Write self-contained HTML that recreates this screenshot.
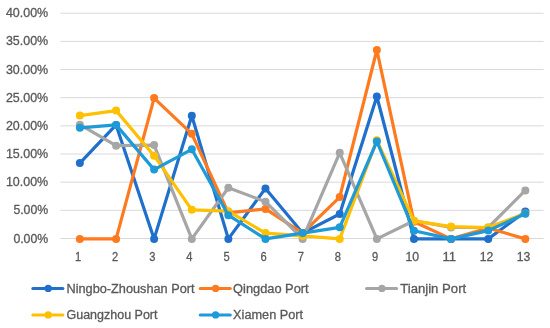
<!DOCTYPE html><html><head><meta charset="utf-8"><title>Chart</title><style>html,body{margin:0;padding:0;background:#fff}svg{display:block}text{font-family:"Liberation Sans",sans-serif;fill:#595959;stroke:#595959;stroke-width:0.3}</style></head><body>
<svg width="550" height="328" viewBox="0 0 550 328">
<rect width="550" height="328" fill="#fff"/>
<line x1="60.5" x2="543.6" y1="238.50" y2="238.50" stroke="#d9d9d9" stroke-width="1"/>
<text x="48.2" y="242.60" font-size="12.6" text-anchor="end" textLength="34.8" lengthAdjust="spacingAndGlyphs">0.00%</text>
<line x1="60.5" x2="543.6" y1="210.34" y2="210.34" stroke="#d9d9d9" stroke-width="1"/>
<text x="48.2" y="214.44" font-size="12.6" text-anchor="end" textLength="34.8" lengthAdjust="spacingAndGlyphs">5.00%</text>
<line x1="60.5" x2="543.6" y1="182.18" y2="182.18" stroke="#d9d9d9" stroke-width="1"/>
<text x="48.2" y="186.28" font-size="12.6" text-anchor="end" textLength="42.3" lengthAdjust="spacingAndGlyphs">10.00%</text>
<line x1="60.5" x2="543.6" y1="154.02" y2="154.02" stroke="#d9d9d9" stroke-width="1"/>
<text x="48.2" y="158.12" font-size="12.6" text-anchor="end" textLength="42.3" lengthAdjust="spacingAndGlyphs">15.00%</text>
<line x1="60.5" x2="543.6" y1="125.86" y2="125.86" stroke="#d9d9d9" stroke-width="1"/>
<text x="48.2" y="129.96" font-size="12.6" text-anchor="end" textLength="42.3" lengthAdjust="spacingAndGlyphs">20.00%</text>
<line x1="60.5" x2="543.6" y1="97.70" y2="97.70" stroke="#d9d9d9" stroke-width="1"/>
<text x="48.2" y="101.80" font-size="12.6" text-anchor="end" textLength="42.3" lengthAdjust="spacingAndGlyphs">25.00%</text>
<line x1="60.5" x2="543.6" y1="69.54" y2="69.54" stroke="#d9d9d9" stroke-width="1"/>
<text x="48.2" y="73.64" font-size="12.6" text-anchor="end" textLength="42.3" lengthAdjust="spacingAndGlyphs">30.00%</text>
<line x1="60.5" x2="543.6" y1="41.38" y2="41.38" stroke="#d9d9d9" stroke-width="1"/>
<text x="48.2" y="45.48" font-size="12.6" text-anchor="end" textLength="42.3" lengthAdjust="spacingAndGlyphs">35.00%</text>
<line x1="60.5" x2="543.6" y1="13.22" y2="13.22" stroke="#d9d9d9" stroke-width="1"/>
<text x="48.2" y="17.32" font-size="12.6" text-anchor="end" textLength="42.3" lengthAdjust="spacingAndGlyphs">40.00%</text>
<polyline points="79.86,163.10 116.10,124.90 154.11,238.90 191.80,115.80 228.35,238.90 265.48,188.40 302.60,233.10 339.72,214.00 376.85,96.50 413.97,238.90 451.09,238.90 488.22,238.90 525.34,211.60" fill="none" stroke="#1f6fcb" stroke-width="3.2" stroke-linejoin="round" stroke-linecap="round"/>
<circle cx="79.86" cy="163.10" r="4.0" fill="#1f6fcb"/>
<circle cx="116.10" cy="124.90" r="4.0" fill="#1f6fcb"/>
<circle cx="154.11" cy="238.90" r="4.0" fill="#1f6fcb"/>
<circle cx="191.80" cy="115.80" r="4.0" fill="#1f6fcb"/>
<circle cx="228.35" cy="238.90" r="4.0" fill="#1f6fcb"/>
<circle cx="265.48" cy="188.40" r="4.0" fill="#1f6fcb"/>
<circle cx="302.60" cy="233.10" r="4.0" fill="#1f6fcb"/>
<circle cx="339.72" cy="214.00" r="4.0" fill="#1f6fcb"/>
<circle cx="376.85" cy="96.50" r="4.0" fill="#1f6fcb"/>
<circle cx="413.97" cy="238.90" r="4.0" fill="#1f6fcb"/>
<circle cx="451.09" cy="238.90" r="4.0" fill="#1f6fcb"/>
<circle cx="488.22" cy="238.90" r="4.0" fill="#1f6fcb"/>
<circle cx="525.34" cy="211.60" r="4.0" fill="#1f6fcb"/>
<polyline points="79.86,238.90 116.10,238.90 154.11,98.10 191.80,133.80 228.35,212.80 265.48,208.90 302.60,233.10 339.72,197.10 376.85,50.00 413.97,221.80 451.09,238.90 488.22,228.00 525.34,238.90" fill="none" stroke="#ff7a1f" stroke-width="3.2" stroke-linejoin="round" stroke-linecap="round"/>
<circle cx="79.86" cy="238.90" r="4.0" fill="#ff7a1f"/>
<circle cx="116.10" cy="238.90" r="4.0" fill="#ff7a1f"/>
<circle cx="154.11" cy="98.10" r="4.0" fill="#ff7a1f"/>
<circle cx="191.80" cy="133.80" r="4.0" fill="#ff7a1f"/>
<circle cx="228.35" cy="212.80" r="4.0" fill="#ff7a1f"/>
<circle cx="265.48" cy="208.90" r="4.0" fill="#ff7a1f"/>
<circle cx="302.60" cy="233.10" r="4.0" fill="#ff7a1f"/>
<circle cx="339.72" cy="197.10" r="4.0" fill="#ff7a1f"/>
<circle cx="376.85" cy="50.00" r="4.0" fill="#ff7a1f"/>
<circle cx="413.97" cy="221.80" r="4.0" fill="#ff7a1f"/>
<circle cx="451.09" cy="238.90" r="4.0" fill="#ff7a1f"/>
<circle cx="488.22" cy="228.00" r="4.0" fill="#ff7a1f"/>
<circle cx="525.34" cy="238.90" r="4.0" fill="#ff7a1f"/>
<polyline points="79.86,124.70 116.10,145.70 154.11,145.10 191.80,238.90 228.35,187.80 265.48,201.70 302.60,238.90 339.72,152.80 376.85,238.90 413.97,220.70 451.09,227.50 488.22,227.50 525.34,190.40" fill="none" stroke="#a6a6a6" stroke-width="3.2" stroke-linejoin="round" stroke-linecap="round"/>
<circle cx="79.86" cy="124.70" r="4.0" fill="#a6a6a6"/>
<circle cx="116.10" cy="145.70" r="4.0" fill="#a6a6a6"/>
<circle cx="154.11" cy="145.10" r="4.0" fill="#a6a6a6"/>
<circle cx="191.80" cy="238.90" r="4.0" fill="#a6a6a6"/>
<circle cx="228.35" cy="187.80" r="4.0" fill="#a6a6a6"/>
<circle cx="265.48" cy="201.70" r="4.0" fill="#a6a6a6"/>
<circle cx="302.60" cy="238.90" r="4.0" fill="#a6a6a6"/>
<circle cx="339.72" cy="152.80" r="4.0" fill="#a6a6a6"/>
<circle cx="376.85" cy="238.90" r="4.0" fill="#a6a6a6"/>
<circle cx="413.97" cy="220.70" r="4.0" fill="#a6a6a6"/>
<circle cx="451.09" cy="227.50" r="4.0" fill="#a6a6a6"/>
<circle cx="488.22" cy="227.50" r="4.0" fill="#a6a6a6"/>
<circle cx="525.34" cy="190.40" r="4.0" fill="#a6a6a6"/>
<polyline points="79.86,115.60 116.10,110.60 154.11,155.70 191.80,209.80 228.35,211.20 265.48,233.10 302.60,235.90 339.72,238.90 376.85,140.30 413.97,220.80 451.09,226.60 488.22,227.50 525.34,213.40" fill="none" stroke="#ffc000" stroke-width="3.2" stroke-linejoin="round" stroke-linecap="round"/>
<circle cx="79.86" cy="115.60" r="4.0" fill="#ffc000"/>
<circle cx="116.10" cy="110.60" r="4.0" fill="#ffc000"/>
<circle cx="154.11" cy="155.70" r="4.0" fill="#ffc000"/>
<circle cx="191.80" cy="209.80" r="4.0" fill="#ffc000"/>
<circle cx="228.35" cy="211.20" r="4.0" fill="#ffc000"/>
<circle cx="265.48" cy="233.10" r="4.0" fill="#ffc000"/>
<circle cx="302.60" cy="235.90" r="4.0" fill="#ffc000"/>
<circle cx="339.72" cy="238.90" r="4.0" fill="#ffc000"/>
<circle cx="376.85" cy="140.30" r="4.0" fill="#ffc000"/>
<circle cx="413.97" cy="220.80" r="4.0" fill="#ffc000"/>
<circle cx="451.09" cy="226.60" r="4.0" fill="#ffc000"/>
<circle cx="488.22" cy="227.50" r="4.0" fill="#ffc000"/>
<circle cx="525.34" cy="213.40" r="4.0" fill="#ffc000"/>
<polyline points="79.86,127.80 116.10,124.90 154.11,169.60 191.80,149.30 228.35,215.20 265.48,238.90 302.60,233.10 339.72,227.30 376.85,141.50 413.97,230.80 451.09,238.90 488.22,230.60 525.34,213.70" fill="none" stroke="#1f9ad8" stroke-width="3.2" stroke-linejoin="round" stroke-linecap="round"/>
<circle cx="79.86" cy="127.80" r="4.0" fill="#1f9ad8"/>
<circle cx="116.10" cy="124.90" r="4.0" fill="#1f9ad8"/>
<circle cx="154.11" cy="169.60" r="4.0" fill="#1f9ad8"/>
<circle cx="191.80" cy="149.30" r="4.0" fill="#1f9ad8"/>
<circle cx="228.35" cy="215.20" r="4.0" fill="#1f9ad8"/>
<circle cx="265.48" cy="238.90" r="4.0" fill="#1f9ad8"/>
<circle cx="302.60" cy="233.10" r="4.0" fill="#1f9ad8"/>
<circle cx="339.72" cy="227.30" r="4.0" fill="#1f9ad8"/>
<circle cx="376.85" cy="141.50" r="4.0" fill="#1f9ad8"/>
<circle cx="413.97" cy="230.80" r="4.0" fill="#1f9ad8"/>
<circle cx="451.09" cy="238.90" r="4.0" fill="#1f9ad8"/>
<circle cx="488.22" cy="230.60" r="4.0" fill="#1f9ad8"/>
<circle cx="525.34" cy="213.70" r="4.0" fill="#1f9ad8"/>
<text x="78.10" y="260.7" font-size="12.6" text-anchor="middle" textLength="6.2" lengthAdjust="spacingAndGlyphs">1</text>
<text x="115.22" y="260.7" font-size="12.6" text-anchor="middle" textLength="6.2" lengthAdjust="spacingAndGlyphs">2</text>
<text x="152.35" y="260.7" font-size="12.6" text-anchor="middle" textLength="6.2" lengthAdjust="spacingAndGlyphs">3</text>
<text x="189.47" y="260.7" font-size="12.6" text-anchor="middle" textLength="6.2" lengthAdjust="spacingAndGlyphs">4</text>
<text x="226.59" y="260.7" font-size="12.6" text-anchor="middle" textLength="6.2" lengthAdjust="spacingAndGlyphs">5</text>
<text x="263.72" y="260.7" font-size="12.6" text-anchor="middle" textLength="6.2" lengthAdjust="spacingAndGlyphs">6</text>
<text x="300.84" y="260.7" font-size="12.6" text-anchor="middle" textLength="6.2" lengthAdjust="spacingAndGlyphs">7</text>
<text x="337.96" y="260.7" font-size="12.6" text-anchor="middle" textLength="6.2" lengthAdjust="spacingAndGlyphs">8</text>
<text x="375.08" y="260.7" font-size="12.6" text-anchor="middle" textLength="6.2" lengthAdjust="spacingAndGlyphs">9</text>
<text x="412.21" y="260.7" font-size="12.6" text-anchor="middle" textLength="13.6" lengthAdjust="spacingAndGlyphs">10</text>
<text x="449.33" y="260.7" font-size="12.6" text-anchor="middle" textLength="13.6" lengthAdjust="spacingAndGlyphs">11</text>
<text x="486.45" y="260.7" font-size="12.6" text-anchor="middle" textLength="13.6" lengthAdjust="spacingAndGlyphs">12</text>
<text x="523.58" y="260.7" font-size="12.6" text-anchor="middle" textLength="13.6" lengthAdjust="spacingAndGlyphs">13</text>
<line x1="32.8" x2="62.9" y1="288.4" y2="288.4" stroke="#1f6fcb" stroke-width="3" stroke-linecap="round"/>
<circle cx="48.2" cy="288.4" r="3.65" fill="#1f6fcb"/>
<text x="66.5" y="292.6" font-size="12.3" textLength="128" lengthAdjust="spacingAndGlyphs">Ningbo-Zhoushan Port</text>
<line x1="200.2" x2="230.3" y1="288.4" y2="288.4" stroke="#ff7a1f" stroke-width="3" stroke-linecap="round"/>
<circle cx="215.6" cy="288.4" r="3.65" fill="#ff7a1f"/>
<text x="233.1" y="292.6" font-size="12.3" textLength="75.5" lengthAdjust="spacingAndGlyphs">Qingdao Port</text>
<line x1="366.5" x2="396.6" y1="288.4" y2="288.4" stroke="#a6a6a6" stroke-width="3" stroke-linecap="round"/>
<circle cx="381.9" cy="288.4" r="3.65" fill="#a6a6a6"/>
<text x="400.2" y="292.6" font-size="12.3" textLength="66" lengthAdjust="spacingAndGlyphs">Tianjin Port</text>
<line x1="32.8" x2="62.9" y1="314.9" y2="314.9" stroke="#ffc000" stroke-width="3" stroke-linecap="round"/>
<circle cx="48.2" cy="314.9" r="3.65" fill="#ffc000"/>
<text x="66.5" y="319.0" font-size="12.3" textLength="91" lengthAdjust="spacingAndGlyphs">Guangzhou Port</text>
<line x1="200.2" x2="230.3" y1="314.9" y2="314.9" stroke="#1f9ad8" stroke-width="3" stroke-linecap="round"/>
<circle cx="215.6" cy="314.9" r="3.65" fill="#1f9ad8"/>
<text x="233.1" y="319.0" font-size="12.3" textLength="70" lengthAdjust="spacingAndGlyphs">Xiamen Port</text>
</svg></body></html>
